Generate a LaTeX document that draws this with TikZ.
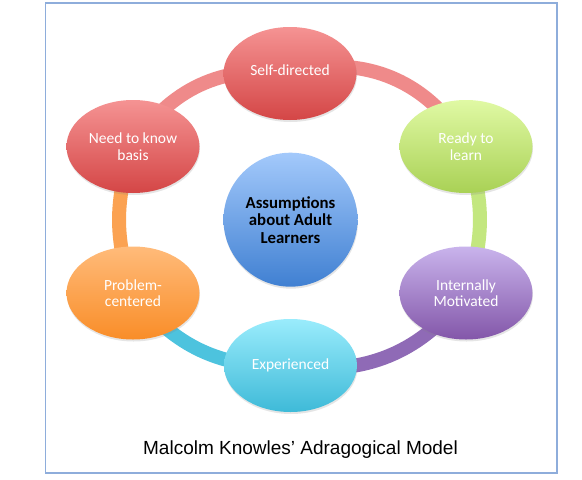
\documentclass[tikz,border=0pt]{standalone}
\usepackage{fontspec}
\setmainfont{Carlito}
\newfontfamily\titlefont{Liberation Sans}
\usetikzlibrary{shapes.geometric,shadows,backgrounds}

\definecolor{redtop}{HTML}{F59393}
\definecolor{redbot}{HTML}{D44646}
\definecolor{greentop}{HTML}{E0F9A4}
\definecolor{greenbot}{HTML}{A9D155}
\definecolor{bluetop}{HTML}{A3C9FB}
\definecolor{bluebot}{HTML}{4080D2}
\definecolor{orangetop}{HTML}{FFBB7A}
\definecolor{orangebot}{HTML}{F98D28}
\definecolor{purpletop}{HTML}{C9B3EC}
\definecolor{purplebot}{HTML}{8357A9}
\definecolor{cyantop}{HTML}{9AECFC}
\definecolor{cyanbot}{HTML}{3EBAD8}
\definecolor{redarc}{HTML}{EF8A8A}
\definecolor{greenarc}{HTML}{C3E77F}
\definecolor{purplearc}{HTML}{8F6AB6}
\definecolor{cyanarc}{HTML}{4DC3DE}
\definecolor{orangearc}{HTML}{FBA252}
\definecolor{framecol}{HTML}{8EADDB}

\begin{document}
\begin{tikzpicture}[x=1pt, y=-1pt,
    bubble/.style={ellipse, minimum width=133pt, minimum height=93pt, inner sep=0pt,
      align=center, text=white, font=\fontsize{15.5}{16.5}\selectfont,
      drop shadow={opacity=0.2, shadow xshift=0.5pt, shadow yshift=-2pt}},
    ring/.style={line width=14pt}]
  \useasboundingbox (0,0) rectangle (582,480);

  % Nodes for the assumptions (ellipses)
  \node[bubble, top color=redtop, bottom color=redbot] (S) at (290,73.5) {\raisebox{6pt}{Self-directed}};
  \node[bubble, top color=greentop, bottom color=greenbot] (R) at (466,146.5) {Ready to\\learn};
  \node[bubble, top color=purpletop, bottom color=purplebot] (M) at (466,293) {Internally\\Motivated};
  \node[bubble, top color=cyantop, bottom color=cyanbot] (E) at (290.5,365.5) {Experienced};
  \node[bubble, top color=orangetop, bottom color=orangebot] (P) at (133,293) {Problem-\\centered};
  \node[bubble, top color=redtop, bottom color=redbot] (N) at (133,146.5) {Need to know\\basis};

  % Node for the centre (circle)
  \node[circle, minimum size=134pt, inner sep=0pt, top color=bluetop, bottom color=bluebot,
    align=center, font=\bfseries\fontsize{16.8}{17.5}\selectfont,
    drop shadow={opacity=0.2, shadow xshift=0.5pt, shadow yshift=-2pt}] (C) at (290.5,219.7) {Assumptions\\about Adult\\Learners};

  % Title
  \node[anchor=base, font=\titlefont\fontsize{19}{22}\selectfont] (T) at (300.5,454) {Malcolm Knowles’ Adragogical Model};

  \begin{scope}[on background layer]
    % Frame
    \fill[white] (0,0) rectangle (582,480);
    \draw[framecol, line width=1.5pt] (45.5,3) rectangle (557,473);

    % Arcs of the ring
    \draw[ring, redarc] (N.center) to[bend left=33] (S.center);
    \draw[ring, redarc] (S.center) to[bend left=39] (R.center);
    \draw[ring, greenarc] (R.center) to[bend left=19] (M.center);
    \draw[ring, purplearc] (M.center) to[bend left=31] (E.center);
    \draw[ring, cyanarc] (E.center) to[bend left=28] (P.center);
    \draw[ring, orangearc] (P.center) to[bend left=19] (N.center);
  \end{scope}
\end{tikzpicture}
\end{document}
